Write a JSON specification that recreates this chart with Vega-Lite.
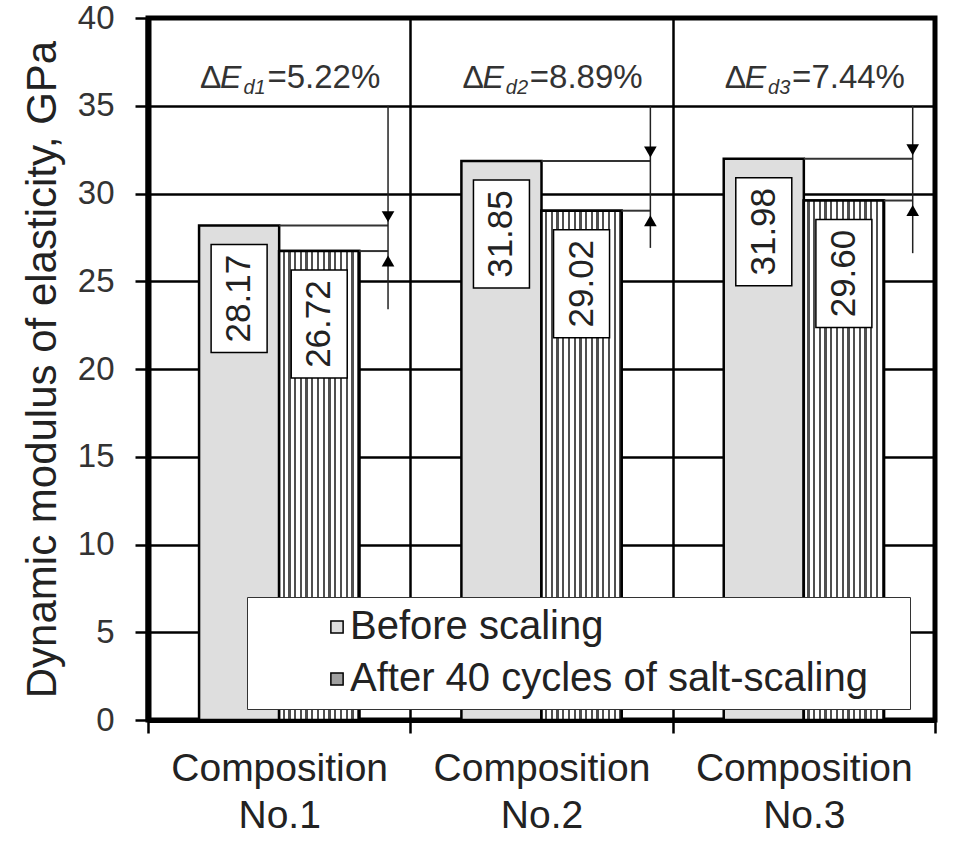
{
  "$schema": "https://vega.github.io/schema/vega-lite/v6.json",
  "width": 787,
  "height": 702,
  "autosize": {"type": "none"},
  "padding": {"left": 148, "top": 18, "right": 29, "bottom": 122},
  "background": "white",
  "config": {
    "view": {"stroke": "black", "strokeWidth": 5},
    "font": "Liberation Sans",
    "axisX": {
      "tickBand": "extent", "grid": true, "gridColor": "black", "gridWidth": 2.5, "gridOpacity": 1,
      "domainColor": "black", "domainWidth": 5, "tickColor": "black", "tickWidth": 2.5, "tickSize": 13,
      "labelFont": "Liberation Sans", "labelFontSize": 39, "labelColor": "#222", "labelAngle": 0,
      "labelPadding": 16, "labelLineHeight": 47, "labelLimit": 0
    },
    "axisY": {
      "grid": true, "gridColor": "black", "gridWidth": 2.5, "gridOpacity": 1,
      "domainColor": "black", "domainWidth": 6, "tickColor": "black", "tickWidth": 2.5, "tickSize": 13,
      "labelFont": "Liberation Sans", "labelFontSize": 33, "labelColor": "#333", "labelPadding": 21,
      "titleFont": "Liberation Sans", "titleFontSize": 42, "titleFontWeight": "normal", "titleColor": "#222",
      "titleX": -106, "titleY": 351, "titleAngle": 270, "titleBaseline": "middle", "titleAlign": "center"
    }
  },
  "datasets": {
    "bars": [
      {"composition": "Composition No.1", "stage": "Before scaling", "value": 28.17},
      {"composition": "Composition No.1", "stage": "After 40 cycles of salt-scaling", "value": 26.72},
      {"composition": "Composition No.2", "stage": "Before scaling", "value": 31.85},
      {"composition": "Composition No.2", "stage": "After 40 cycles of salt-scaling", "value": 29.02},
      {"composition": "Composition No.3", "stage": "Before scaling", "value": 31.98},
      {"composition": "Composition No.3", "stage": "After 40 cycles of salt-scaling", "value": 29.60}
    ],
    "changes": [
      {"composition": "Composition No.1", "before": 28.17, "after": 26.72, "arrowBottom": 23.4, "sub": "d1", "deltaLabel": "=5.22%"},
      {"composition": "Composition No.2", "before": 31.85, "after": 29.02, "arrowBottom": 26.9, "sub": "d2", "deltaLabel": "=8.89%"},
      {"composition": "Composition No.3", "before": 31.98, "after": 29.60, "arrowBottom": 26.6, "sub": "d3", "deltaLabel": "=7.44%"}
    ]
  },
  "layer": [
    {
      "data": {"name": "bars"},
      "mark": {"type": "bar", "stroke": "black", "strokeWidth": 2.5},
      "encoding": {
        "x": {"field": "composition", "type": "nominal", "title": null,
              "scale": {"paddingInner": 0, "paddingOuter": 0},
              "axis": {"labelExpr": "split(datum.label, ' ')"}},
        "xOffset": {"field": "stage", "type": "nominal",
                    "scale": {"domain": ["Before scaling", "After 40 cycles of salt-scaling"], "paddingInner": 0, "paddingOuter": 0.6375}},
        "y": {"field": "value", "type": "quantitative",
              "scale": {"domain": [0, 40], "nice": false},
              "axis": {"values": [0, 5, 10, 15, 20, 25, 30, 35, 40], "title": "Dynamic modulus of elasticity, GPa"}},
        "color": {"field": "stage", "type": "nominal",
                  "scale": {"domain": ["Before scaling", "After 40 cycles of salt-scaling"], "range": ["#dedede", "#a0a0a0"]},
                  "legend": {"title": "\u00a0", "titleOrient": "right", "titlePadding": 32, "titleFontSize": 20,
                             "orient": "none", "legendX": 99, "legendY": 579, "direction": "vertical",
                             "fillColor": "white", "strokeColor": "#333", "padding": 10,
                             "symbolType": "square", "symbolSize": 150, "symbolStrokeColor": "black", "symbolStrokeWidth": 1.5,
                             "symbolOffset": 60, "labelOffset": -7, "labelFont": "Liberation Sans", "labelFontSize": 40,
                             "labelColor": "#222", "rowPadding": 12, "labelLimit": 800}}
      }
    },
    {
      "data": {"name": "bars"},
      "transform": [{"filter": "datum.stage === 'After 40 cycles of salt-scaling'"}],
      "mark": {"type": "bar", "stroke": "black", "strokeWidth": 2.5,
               "fill": {"gradient": "linear", "x1": 0, "x2": 1, "y1": 0, "y2": 0, "stops": [
                 {"offset": 0, "color": "#ffffff"}, {"offset": 0.0429, "color": "#ffffff"}, {"offset": 0.0429, "color": "#505050"}, {"offset": 0.0714, "color": "#505050"},
                 {"offset": 0.0714, "color": "#ffffff"}, {"offset": 0.1143, "color": "#ffffff"}, {"offset": 0.1143, "color": "#505050"}, {"offset": 0.1429, "color": "#505050"},
                 {"offset": 0.1429, "color": "#ffffff"}, {"offset": 0.1857, "color": "#ffffff"}, {"offset": 0.1857, "color": "#505050"}, {"offset": 0.2143, "color": "#505050"},
                 {"offset": 0.2143, "color": "#ffffff"}, {"offset": 0.2571, "color": "#ffffff"}, {"offset": 0.2571, "color": "#505050"}, {"offset": 0.2857, "color": "#505050"},
                 {"offset": 0.2857, "color": "#ffffff"}, {"offset": 0.3286, "color": "#ffffff"}, {"offset": 0.3286, "color": "#505050"}, {"offset": 0.3571, "color": "#505050"},
                 {"offset": 0.3571, "color": "#ffffff"}, {"offset": 0.4, "color": "#ffffff"}, {"offset": 0.4, "color": "#505050"}, {"offset": 0.4286, "color": "#505050"},
                 {"offset": 0.4286, "color": "#ffffff"}, {"offset": 0.4714, "color": "#ffffff"}, {"offset": 0.4714, "color": "#505050"}, {"offset": 0.5, "color": "#505050"},
                 {"offset": 0.5, "color": "#ffffff"}, {"offset": 0.5429, "color": "#ffffff"}, {"offset": 0.5429, "color": "#505050"}, {"offset": 0.5714, "color": "#505050"},
                 {"offset": 0.5714, "color": "#ffffff"}, {"offset": 0.6143, "color": "#ffffff"}, {"offset": 0.6143, "color": "#505050"}, {"offset": 0.6429, "color": "#505050"},
                 {"offset": 0.6429, "color": "#ffffff"}, {"offset": 0.6857, "color": "#ffffff"}, {"offset": 0.6857, "color": "#505050"}, {"offset": 0.7143, "color": "#505050"},
                 {"offset": 0.7143, "color": "#ffffff"}, {"offset": 0.7571, "color": "#ffffff"}, {"offset": 0.7571, "color": "#505050"}, {"offset": 0.7857, "color": "#505050"},
                 {"offset": 0.7857, "color": "#ffffff"}, {"offset": 0.8286, "color": "#ffffff"}, {"offset": 0.8286, "color": "#505050"}, {"offset": 0.8571, "color": "#505050"},
                 {"offset": 0.8571, "color": "#ffffff"}, {"offset": 0.9, "color": "#ffffff"}, {"offset": 0.9, "color": "#505050"}, {"offset": 0.9286, "color": "#505050"},
                 {"offset": 0.9286, "color": "#ffffff"}, {"offset": 0.9714, "color": "#ffffff"}, {"offset": 0.9714, "color": "#505050"}, {"offset": 1, "color": "#505050"}
               ]}},
      "encoding": {
        "x": {"field": "composition", "type": "nominal"},
        "xOffset": {"field": "stage", "type": "nominal"},
        "y": {"field": "value", "type": "quantitative"}
      }
    },
    {
      "data": {"name": "bars"},
      "mark": {"type": "point", "shape": "M-0.5185,-1L0.5185,-1L0.5185,1L-0.5185,1Z", "size": 11664,
               "filled": true, "fill": "white", "stroke": "black", "strokeWidth": 1.5, "opacity": 1, "fillOpacity": 1, "yOffset": 73},
      "encoding": {
        "x": {"field": "composition", "type": "nominal"},
        "xOffset": {"field": "stage", "type": "nominal"},
        "y": {"field": "value", "type": "quantitative"}
      }
    },
    {
      "data": {"name": "bars"},
      "mark": {"type": "text", "angle": 270, "fontSize": 35, "font": "Liberation Sans", "color": "#222",
               "yOffset": 73, "align": "center", "baseline": "middle"},
      "encoding": {
        "x": {"field": "composition", "type": "nominal"},
        "xOffset": {"field": "stage", "type": "nominal"},
        "y": {"field": "value", "type": "quantitative"},
        "text": {"field": "value", "type": "quantitative", "format": ".2f"}
      }
    },
    {
      "data": {"name": "changes"},
      "mark": {"type": "rule", "stroke": "#333", "strokeWidth": 2},
      "encoding": {
        "x": {"field": "composition", "type": "nominal", "bandPosition": 0.5},
        "x2": {"field": "composition", "bandPosition": 0.915},
        "y": {"field": "before", "type": "quantitative"}
      }
    },
    {
      "data": {"name": "changes"},
      "mark": {"type": "rule", "stroke": "#333", "strokeWidth": 2},
      "encoding": {
        "x": {"field": "composition", "type": "nominal", "bandPosition": 0.805},
        "x2": {"field": "composition", "bandPosition": 0.915},
        "y": {"field": "after", "type": "quantitative"}
      }
    },
    {
      "data": {"name": "changes"},
      "mark": {"type": "rule", "stroke": "#222", "strokeWidth": 1.5},
      "encoding": {
        "x": {"field": "composition", "type": "nominal", "bandPosition": 0.915},
        "y": {"field": "arrowBottom", "type": "quantitative"},
        "y2": {"datum": 35}
      }
    },
    {
      "data": {"name": "changes"},
      "mark": {"type": "point", "shape": "triangle-down", "size": 160, "filled": true, "color": "black", "opacity": 1, "yOffset": -9},
      "encoding": {
        "x": {"field": "composition", "type": "nominal", "bandPosition": 0.915},
        "y": {"field": "before", "type": "quantitative"}
      }
    },
    {
      "data": {"name": "changes"},
      "mark": {"type": "point", "shape": "triangle-up", "size": 160, "filled": true, "color": "black", "opacity": 1, "yOffset": 10},
      "encoding": {
        "x": {"field": "composition", "type": "nominal", "bandPosition": 0.915},
        "y": {"field": "after", "type": "quantitative"}
      }
    },
    {
      "data": {"name": "changes"},
      "mark": {"type": "text", "text": "Δ", "font": "Liberation Sans", "fontSize": 32,
               "color": "#333", "align": "right", "baseline": "middle", "dx": -21},
      "encoding": {
        "x": {"field": "composition", "type": "nominal", "bandPosition": 0.36},
        "y": {"datum": 36.6}
      }
    },
    {
      "data": {"name": "changes"},
      "mark": {"type": "text", "text": "E", "font": "Liberation Sans", "fontStyle": "italic", "fontSize": 32,
               "color": "#333", "align": "right", "baseline": "middle", "dx": -1},
      "encoding": {
        "x": {"field": "composition", "type": "nominal", "bandPosition": 0.36},
        "y": {"datum": 36.6}
      }
    },
    {
      "data": {"name": "changes"},
      "mark": {"type": "text", "font": "Liberation Sans", "fontStyle": "italic", "fontSize": 20,
               "color": "#333", "align": "left", "baseline": "middle", "dy": 10, "dx": 1},
      "encoding": {
        "x": {"field": "composition", "type": "nominal", "bandPosition": 0.36},
        "y": {"datum": 36.6},
        "text": {"field": "sub", "type": "nominal"}
      }
    },
    {
      "data": {"name": "changes"},
      "mark": {"type": "text", "font": "Liberation Sans", "fontSize": 33,
               "color": "#333", "align": "left", "baseline": "middle", "dx": 25},
      "encoding": {
        "x": {"field": "composition", "type": "nominal", "bandPosition": 0.36},
        "y": {"datum": 36.6},
        "text": {"field": "deltaLabel", "type": "nominal"}
      }
    }
  ]
}
